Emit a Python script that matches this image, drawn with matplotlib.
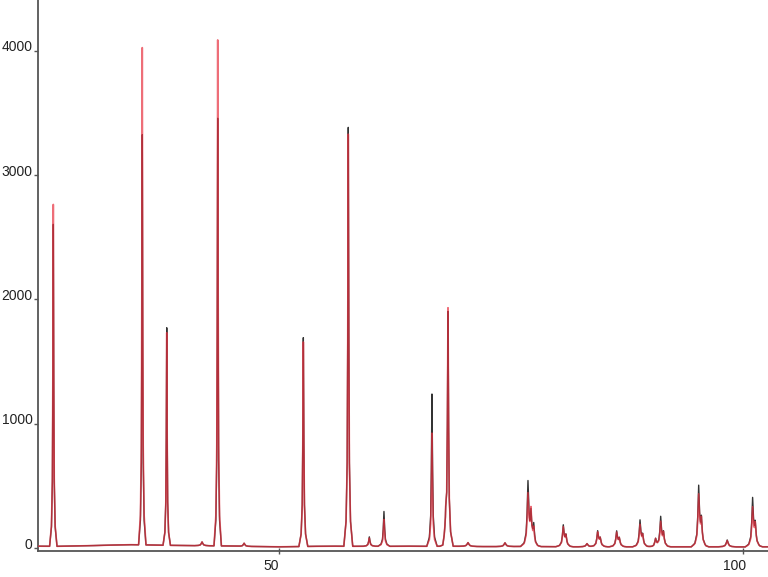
import numpy as np
import matplotlib
matplotlib.use('Agg')
import matplotlib.pyplot as plt
from matplotlib.transforms import ScaledTranslation

# ---- data (2-theta in degrees, intensity in counts) ----
peak_pos = [25.61, 35.21, 37.85, 41.66, 43.35, 46.2, 52.59, 57.44, 59.71, 61.29,
            66.47, 67.95, 68.20, 70.36, 74.35, 76.83, 77.15, 77.45, 80.64, 80.92,
            83.2, 84.35, 84.62, 86.4, 86.68, 88.92, 89.2, 90.6, 91.15, 91.45,
            95.25, 95.54, 98.33, 101.07, 101.35]
black_height = [2590, 3300, 1750, 30, 3440, 25, 1680, 3370, 75, 280,
                1225, 150, 1870, 30, 30, 500, 230, 150, 165, 80,
                25, 120, 60, 120, 60, 205, 80, 60, 230, 100,
                470, 190, 55, 375, 160]
red_height = [2750, 4000, 1710, 30, 4070, 25, 1645, 3315, 65, 215,
              910, 150, 1900, 30, 30, 400, 260, 120, 150, 80,
              25, 110, 60, 110, 60, 170, 80, 60, 190, 100,
              400, 190, 50, 300, 160]
peak_hwhm = [0.05, 0.05, 0.05, 0.1, 0.05, 0.1, 0.06, 0.06, 0.08, 0.08,
             0.07, 0.08, 0.07, 0.12, 0.12, 0.1, 0.1, 0.1, 0.1, 0.1,
             0.12, 0.1, 0.1, 0.1, 0.1, 0.1, 0.1, 0.1, 0.1, 0.1,
             0.1, 0.1, 0.12, 0.1, 0.1]
base_x = [24, 26, 28, 30, 32, 34, 36, 38, 40, 42, 44, 46, 48, 50, 52, 54, 56, 58,
          60, 62, 64, 66, 68, 70, 72, 74, 76, 78, 80, 82, 84, 86, 88, 90, 92, 94,
          96, 98, 100, 102, 103]
base_y = [15, 14, 17, 20, 24, 27, 25, 22, 20, 19, 17, 14, 12, 10, 12, 14, 15, 14,
          15, 14, 15, 14, 15, 14, 12, 12, 13, 12, 11, 10, 11, 10, 10, 11, 10, 10,
          10, 10, 9, 10, 10]
x_ticks = [50, 100]
y_ticks = [0, 1000, 2000, 3000, 4000]

# peak shape template (offset in HWHM units, fraction of peak height)
tmpl_off = np.array([-8, -4, -2, -1, 0, 1, 2, 4, 8], dtype=float)
tmpl_frac = np.array([0, 0.06, 0.2, 0.5, 1, 0.5, 0.2, 0.06, 0])


def profile(heights):
    xs = set(base_x)
    for p, w in zip(peak_pos, peak_hwhm):
        xs.update((p + tmpl_off * w).tolist())
    xs = np.array(sorted(xs))
    y = np.interp(xs, base_x, base_y)
    for p, w, h in zip(peak_pos, peak_hwhm, heights):
        y = y + h * np.interp((xs - p) / w, tmpl_off, tmpl_frac)
    return xs, y


fig = plt.figure(figsize=(7.68, 5.77), dpi=100)
ax = fig.add_axes([0.0495, 0.045, 0.9505, 0.955])

xb, yb = profile(black_height)
xr, yr = profile(red_height)
ax.plot(xb, yb, color='#333333', lw=1.0, zorder=2)
ax.plot(xr, yr, color='#e8303f', lw=1.2, alpha=0.7, zorder=3)

ax.set_xlim(23.96, 102.73)
ax.set_ylim(-24, 4409)

for s in ['top', 'right']:
    ax.spines[s].set_visible(False)
for s in ['left', 'bottom']:
    ax.spines[s].set_color('#555555')
    ax.spines[s].set_linewidth(1.3)

ax.set_xticks(x_ticks)
ax.set_yticks(y_ticks)
ax.tick_params(axis='both', colors='#555555', labelcolor='#222222',
               labelsize=10, width=1.0, length=3)
ax.tick_params(axis='x', direction='inout', length=5, pad=3)
ax.tick_params(axis='y', direction='out', pad=1)
for lab in ax.get_xticklabels() + ax.get_yticklabels():
    lab.set_fontfamily('Liberation Sans')
for lab in ax.get_xticklabels():
    lab.set_transform(lab.get_transform() + ScaledTranslation(-0.08, 0, fig.dpi_scale_trans))
for lab in ax.get_yticklabels():
    lab.set_transform(lab.get_transform() + ScaledTranslation(0, 0.05, fig.dpi_scale_trans))

fig.savefig('out.png', dpi=100)
